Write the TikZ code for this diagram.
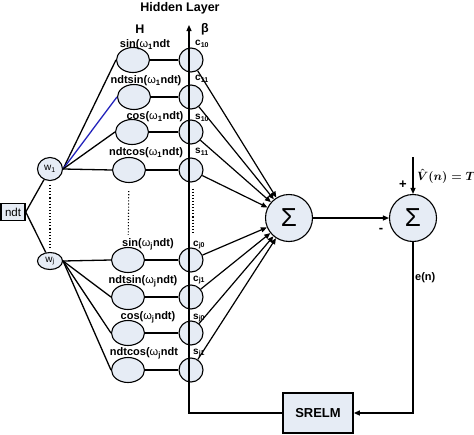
\documentclass[tikz,border=0pt]{standalone}
\usepackage{amsmath,amssymb}
\usepackage{fontspec}
\setmainfont{Liberation Sans}
\usepackage{tikz}
\usepackage{xcolor}
\usetikzlibrary{arrows.meta,positioning,shapes.geometric}
\definecolor{UnitFill}{HTML}{E6ECF5}
\definecolor{LinkBlue}{HTML}{2222BB}
\tikzset{
  hunit/.style={draw=black, fill=UnitFill, ellipse, line width=1.1pt, inner sep=0pt, minimum width=33pt, minimum height=25pt},
  wunit/.style={draw=black, fill=UnitFill, ellipse, line width=1.1pt, inner sep=0pt, minimum width=25pt, font=\fontsize{10}{10}\selectfont},
  bunit/.style={draw=black, fill=UnitFill, circle, line width=1.1pt, inner sep=0pt, minimum size=24pt},
  sumnode/.style={draw=black, fill=UnitFill, circle, line width=1.1pt, inner sep=0pt, minimum size=47pt, font=\fontsize{26}{26}\selectfont},
  inbox/.style={draw=black, fill=UnitFill, line width=1.5pt, inner sep=0pt, minimum width=24pt, minimum height=17pt, font=\fontsize{11.5}{11.5}\selectfont},
  trainbox/.style={draw=black, fill=UnitFill, line width=1.7pt, inner sep=0pt, minimum width=70pt, minimum height=40pt, font=\fontsize{13}{13}\selectfont\bfseries},
  link/.style={line width=1.3pt},
  linkarrow/.style={-{Triangle[length=6pt,width=5pt]}, line width=1.2pt},
  dotline/.style={dotted, line width=1.1pt},
  hlabel/.style={font=\fontsize{11}{11}\selectfont\bfseries, inner sep=0pt},
  blabel/.style={font=\fontsize{10}{10}\selectfont\bfseries, inner sep=0pt, anchor=west},
  title/.style={font=\fontsize{12.5}{12.5}\selectfont\bfseries, inner sep=0pt}
}

\begin{document}
\begin{tikzpicture}[x=1pt, y=-1pt]
  \useasboundingbox (0,0) rectangle (474,434);
  % input and frequency units
  \node[inbox] (ndt) at (13,212) {ndt};
  \node[wunit, minimum height=23pt] (w1) at (50,169) {w\textsubscript{1}};
  \node[wunit, minimum height=17pt] (wj) at (50,261) {w\textsubscript{j}};
  % hidden layer H
  \node[hunit] (h1a) at (133,60) {};
  \node[hunit] (h1b) at (134,97) {};
  \node[hunit] (h1c) at (132,132) {};
  \node[hunit] (h1d) at (129,170) {};
  \node[hunit] (hja) at (128,260) {};
  \node[hunit] (hjb) at (128,297) {};
  \node[hunit] (hjc) at (128,333) {};
  \node[hunit] (hjd) at (128,370) {};
  % output weights beta
  \node[bunit] (bc10) at (191,60) {};
  \node[bunit] (bc11) at (191,97) {};
  \node[bunit] (bs10) at (191,132) {};
  \node[bunit] (bs11) at (191,170) {};
  \node[bunit] (bcj0) at (191,260) {};
  \node[bunit] (bcj1) at (191,297) {};
  \node[bunit] (bsj0) at (191,333) {};
  \node[bunit] (bsj1) at (191,370) {};
  % sums and training block
  \node[sumnode] (sum1) at (289,218) {Σ};
  \node[sumnode] (sum2) at (413,218) {Σ};
  \node[trainbox] (srelm) at (318,413) {SRELM};
  \coordinate (vin) at (413,157);
  \coordinate (axtop) at (189,25);

  % labels
  \node[title] (hl) at (180,8) {Hidden Layer};
  \node[title] (hname) at (140,29) {H};
  \node[title] (bname) at (205,29) {β};
  \node[hlabel] at (145,45) {sin({\mdseries ω}\textsubscript{1}ndt};
  \node[hlabel] at (146,81) {ndtsin({\mdseries ω}\textsubscript{1}ndt)};
  \node[hlabel] at (155,117) {cos({\mdseries ω}\textsubscript{1}ndt)};
  \node[hlabel] at (146,153) {ndtcos({\mdseries ω}\textsubscript{1}ndt)};
  \node[hlabel] at (148,244) {sin({\mdseries ω}\textsubscript{j}ndt)};
  \node[hlabel] at (143,281) {ndtsin({\mdseries ω}\textsubscript{j}ndt)};
  \node[hlabel] at (148,317) {cos({\mdseries ω}\textsubscript{j}ndt)};
  \node[hlabel] at (144,353) {ndtcos({\mdseries ω}\textsubscript{j}ndt};
  \node[blabel] at (195,44) {c\textsubscript{10}};
  \node[blabel] at (195,79) {c\textsubscript{11}};
  \node[blabel] at (195,118) {s\textsubscript{10}};
  \node[blabel] at (195,152) {s\textsubscript{11}};
  \node[blabel] at (193,245) {c\textsubscript{j0}};
  \node[blabel] at (193,280) {c\textsubscript{j1}};
  \node[blabel] at (193,318) {s\textsubscript{j0}};
  \node[blabel] at (193,353) {s\textsubscript{j1}};

  % input to frequency units
  \draw[link] (ndt.east) -- (w1);
  \draw[link] (ndt.east) -- (wj);
  \draw[dotline, shorten <=4pt, shorten >=4pt] (w1) -- (wj);
  \draw[link] (w1.east) -- (h1a.west);
  \draw[link, draw=LinkBlue] (w1.east) -- (h1b.west);
  \draw[link] (w1.east) -- (h1c.west);
  \draw[link] (w1.east) -- (h1d.west);
  \draw[link] (wj.east) -- (hja.west);
  \draw[link] (wj.east) -- (hjb.west);
  \draw[link] (wj.east) -- (hjc.west);
  \draw[link] (wj.east) -- (hjd.west);
  \draw[dotline, shorten <=8pt, shorten >=12pt] (h1d) -- (hja);
  % hidden to beta
  \draw[link] (h1a) -- (bc10);
  \draw[link] (h1b) -- (bc11);
  \draw[link] (h1c) -- (bs10);
  \draw[link] (h1d) -- (bs11);
  \draw[link] (hja) -- (bcj0);
  \draw[link] (hjb) -- (bcj1);
  \draw[link] (hjc) -- (bsj0);
  \draw[link] (hjd) -- (bsj1);
  \draw[dotline, shorten <=6pt, shorten >=15pt] ([xshift=2pt]bs11.south) -- ([xshift=2pt]bcj0.north);
  % beta to sum
  \draw[linkarrow] (bc10) -- (sum1);
  \draw[linkarrow] (bc11) -- (sum1);
  \draw[linkarrow] (bs10) -- (sum1);
  \draw[linkarrow] (bs11) -- (sum1);
  \draw[linkarrow] (bcj0) -- (sum1);
  \draw[linkarrow] (bcj1) -- (sum1);
  \draw[linkarrow] (bsj0) -- (sum1);
  \draw[linkarrow] (bsj1) -- (sum1);
  % error and feedback
  \draw[linkarrow] (sum1) -- (sum2);
  \draw[linkarrow] (vin) -- (sum2);
  \draw[linkarrow] (sum2) |- (srelm);
  \draw[linkarrow] (srelm) -| (axtop);
  \node[anchor=west, inner sep=0pt, font=\fontsize{12}{12}\selectfont\boldmath] at (417,176) {\(\hat{V}(n)=T\)};
  \node[inner sep=0pt, font=\fontsize{13}{13}\selectfont\bfseries] at (403,185) {+};
  \node[inner sep=0pt, font=\fontsize{13}{13}\selectfont\bfseries] at (381,230) {-};
  \node[anchor=west, inner sep=0pt, font=\fontsize{11}{11}\selectfont\bfseries] at (415,278) {e(n)};
\end{tikzpicture}
\end{document}
